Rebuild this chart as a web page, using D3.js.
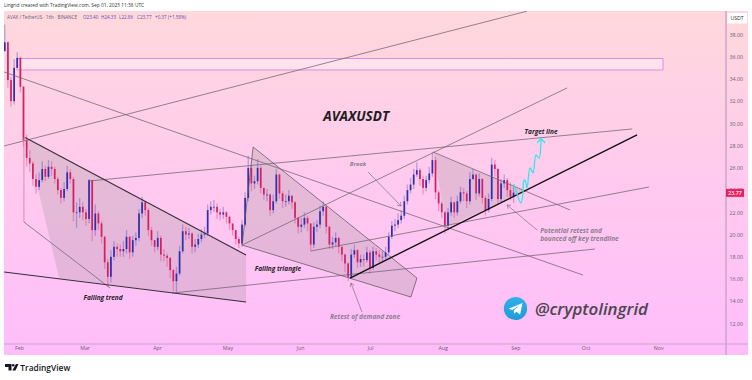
<!DOCTYPE html>
<html>
<head>
<meta charset="utf-8">
<script src="https://cdn.jsdelivr.net/npm/d3@7"></script>
<style>
  html, body { margin: 0; padding: 0; background: #fff; overflow: hidden; }
  svg { display: block; }
  text { font-family: "Open Sans", sans-serif; }
</style>
</head>
<body>
<div id="chartContainer"></div>
<script>
// 32 hour bars, first bar is 26 Jan 2025
var closes = [37.3,33.9,32.0,35.0,35.9,33.3,28.5,26.9,26.4,25.0,
  24.3,24.9,25.9,25.2,26.1,25.9,25.0,24.0,23.3,24.1,
  25.6,25.0,22.0,22.0,22.5,22.0,21.4,24.9,20.4,21.9,
  21.0,19.8,17.5,16.2,18.0,18.9,18.7,18.5,18.7,19.8,
  18.4,19.5,19.7,21.9,22.9,22.2,20.4,19.5,18.9,19.7,
  18.2,18.1,17.9,16.8,15.8,16.5,18.5,20.3,20.0,20.1,
  18.9,19.1,19.6,20.0,20.1,22.2,22.5,22.5,22.0,21.8,
  22.0,21.6,21.0,20.4,19.6,19.2,20.9,23.3,26.0,24.6,
  24.8,26.0,24.2,23.6,23.6,22.2,23.0,25.4,23.7,23.0,
  23.0,23.5,22.9,21.5,20.7,20.9,21.5,21.0,19.1,20.7,
  20.9,22.1,22.5,20.7,19.1,19.3,19.7,18.9,18.2,17.4,
  16.2,18.2,18.6,17.5,17.8,17.7,18.4,17.0,18.5,18.2,
  18.0,18.0,18.4,19.8,20.8,20.9,21.3,21.7,23.0,24.0,
  24.5,25.4,25.8,25.0,24.2,24.9,25.5,26.7,23.8,22.8,
  22.0,20.8,22.0,22.9,22.0,23.0,23.8,23.7,23.0,25.0,
  25.4,23.7,25.0,23.3,22.2,23.2,26.3,25.9,23.2,24.6,
  24.9,24.0,23.4,23.77];
var highs = [38.9,37.4,34.2,35.8,36.4,36.0,33.4,29.0,27.6,26.6,
  25.4,25.6,26.6,26.2,26.7,26.6,26.1,25.2,24.2,24.7,
  26.2,25.9,25.2,22.9,23.3,22.9,22.3,25.0,24.9,22.7,
  22.1,21.2,19.9,17.8,18.6,19.4,19.2,19.1,19.4,20.4,
  19.9,19.9,20.2,22.3,23.4,23.0,22.4,20.7,19.5,20.3,
  19.9,18.7,18.3,18.0,16.9,17.1,19.0,20.9,20.7,20.6,
  20.2,19.6,20.1,20.5,20.7,22.7,23.0,23.1,22.8,22.3,
  22.5,22.1,21.7,21.0,20.4,19.8,21.3,23.8,27.1,26.2,
  25.3,26.8,26.2,24.2,24.1,23.7,23.6,25.9,25.5,23.9,
  23.6,24.0,23.5,23.0,21.6,21.5,22.0,21.7,21.0,21.1,
  21.3,22.6,23.0,22.6,20.8,19.8,20.2,19.8,18.9,18.3,
  17.5,18.7,19.1,18.7,18.2,18.2,18.9,18.6,18.9,18.8,
  18.6,18.5,18.9,20.2,21.2,21.4,21.9,22.2,23.5,24.5,
  25.1,25.9,26.5,26.0,25.3,25.3,26.1,27.4,27.0,24.0,
  23.0,22.1,22.4,23.4,23.0,23.5,24.3,24.2,23.9,25.6,
  25.9,25.5,25.5,25.1,23.5,23.7,26.9,26.7,26.0,25.0,
  25.4,25.1,24.7,24.33];
var lows = [36.5,33.2,31.5,31.7,35.0,32.8,27.9,26.1,25.6,24.4,
  23.7,24.0,24.7,24.8,25.0,25.3,24.6,23.6,22.8,23.0,
  23.9,24.6,21.2,20.6,21.5,21.3,20.8,21.0,19.4,19.9,
  20.4,19.2,16.9,15.3,15.7,17.7,18.0,18.0,18.0,18.3,
  17.8,18.0,19.0,19.4,21.5,21.7,19.9,19.0,18.4,18.6,
  17.6,17.6,17.1,16.1,14.9,14.8,16.3,18.3,19.5,19.6,
  18.3,18.4,18.8,19.3,19.7,19.9,21.8,22.0,21.4,21.3,
  21.4,21.0,20.4,19.9,19.1,18.8,18.9,20.7,23.0,23.9,
  24.1,24.5,23.7,23.1,23.0,21.7,21.9,22.8,23.2,22.4,
  22.5,22.7,22.3,21.0,20.1,20.2,20.6,20.3,18.5,18.8,
  20.2,20.6,21.7,20.1,18.7,18.7,19.0,18.3,17.6,16.6,
  15.8,16.0,17.9,17.0,17.1,17.1,17.5,16.5,16.8,17.7,
  17.5,17.5,17.8,18.2,19.6,20.3,20.6,21.0,21.4,22.7,
  23.7,24.1,25.2,24.4,23.6,23.9,24.6,25.2,23.2,22.1,
  21.5,20.1,20.4,21.7,21.5,21.7,22.8,23.0,22.4,22.7,
  24.9,23.1,23.4,22.8,21.7,22.0,23.0,25.2,22.7,22.9,
  24.2,23.4,23.1,22.86];

var priceTicks = [38,36,34,32,30,28,26,24,22,20,18,16,14,12];
var monthTicks = ["2025-02-01","2025-03-01","2025-04-01","2025-05-01","2025-06-01",
  "2025-07-01","2025-08-01","2025-09-01","2025-10-01","2025-11-01"];

// drawings as [days after 1 Feb, price]
var thinLines = [
  [[-6.4,27.97],[217,40.1]],
  [[-6.4,34.63],[240.9,16.36]],
  [[29.9,24.82],[261.9,29.5]],
  [[2.1,21.13],[38.9,15.19]],
  [[65.4,14.74],[246,18.7]],
  [[95.3,19.06],[234.1,33.19]],
  [[124.7,18.52],[269.1,24.28]],
  [[176.9,27.43],[235.4,22.21]]
];
var heavyLines = [
  [[2.6,28.73],[97,18.16]],
  [[-6.4,16.63],[97,13.93]]
];
var mainTrend = [[141.4,16.09],[264,28.96]];
var stem = [[2.1,28.78],[2.1,21.13]];
var wedgeFalling = [[2.6,28.73],[97,18.16],[97,13.93],[17.1,16.09],[7.7,24.46]];
var wedgeTriangle = [[100,27.88],[170,16.09],[167.4,14.38],[95.3,19.06]];
var wedgeRecent = [[176.9,27.43],[216.1,23.92],[182.8,20.68]];
var arrows = [
  [[149.1,25.63],[163.2,22.57]],
  [[146.5,13.03],[141.8,15.64]],
  [[221.3,20.41],[208.5,22.66]]
];
var projection = [[211.4,24.55],[213.2,23.38],[214.4,22.84],[215.3,23.83],[215.5,24.73],[216.1,24.91],[217,24.2],
  [218.3,26.0],[219.6,25.54],[220.8,27.16],[222.1,26.89],[223,28.6]];
var projectionHead = [[221.3,28.24],[223,28.64],[224.7,28.24]];
var zone = [[-0.9,35.84],[275.1,34.81]];

var legendValues = ["O23.40","H24.33","L22.86","C23.77","+0.37 (+1.58%)"];

var labels = [
  { text: "AVAXUSDT", at: [144,30.58], size: 13.5, color: "#1d1d1f", weight: 700 },
  { text: "Target line", at: [223,29.23], size: 6.5, color: "#1d1d1f", weight: 700 },
  { text: "Break", at: [144.8,26.35], size: 6, color: "#8b7f90", weight: 700 },
  { text: "Falling trend", at: [35.9,14.29], size: 6.5, color: "#1d1d1f", weight: 700 },
  { text: "Falling triangle", at: [110.6,16.9], size: 6.5, color: "#1d1d1f", weight: 700 },
  { text: "Retest of demand zone", at: [147.8,12.58], size: 6.5, color: "#8b7f90", weight: 700 }
];
var noteLines = [
  { text: "Potential retest and", at: [222.6,20.27] },
  { text: "bounced off key trendline", at: [222.6,19.6] }
];

function init() {
    var ww = 752, h = 380;
    var paneRight = 726, paneBottom = 344;

    var x = d3.scaleUtc()
        .domain([Date.UTC(2025,0,25,14), Date.UTC(2025,10,30)])
        .range([4, paneRight]);
    var y = d3.scaleLinear().domain([38, 12]).range([34.5, 323.5]);

    var feb1 = Date.UTC(2025,1,1);
    var day = 86400000;
    var firstBar = Date.UTC(2025,0,25,22);
    function pt(d) { return [x(feb1 + d[0]*day), y(d[1])]; }
    var line = d3.line().x(function(d) { return pt(d)[0]; }).y(function(d) { return pt(d)[1]; });
    var bars = closes.map(function(c, i) {
        return { t: firstBar + i*32*3600000, o: i ? closes[i-1] : 36.5, c: c, hi: highs[i], lo: lows[i] };
    });

    var svg = d3.select("#chartContainer").append("svg").attr("width", ww).attr("height", h);
    var defs = svg.append("defs");
    var grad = defs.append("linearGradient").attr("id","bg").attr("x1",0).attr("x2",0).attr("y1",0).attr("y2",1);
    grad.append("stop").attr("offset","0%").attr("stop-color","#ffd8dc");
    grad.append("stop").attr("offset","45%").attr("stop-color","#ffcbed");
    grad.append("stop").attr("offset","100%").attr("stop-color","#ffbdfb");
    var blue = defs.append("linearGradient").attr("id","tg").attr("x1",0).attr("x2",0).attr("y1",0).attr("y2",1);
    blue.append("stop").attr("offset","0%").attr("stop-color","#2fb0ea");
    blue.append("stop").attr("offset","100%").attr("stop-color","#1f9ad8");
    defs.append("clipPath").attr("id","pane").append("rect")
        .attr("x",4).attr("y",11).attr("width",paneRight-4).attr("height",paneBottom-11);

    svg.append("rect").attr("x",4).attr("y",11).attr("width",744).attr("height",344).attr("fill","url(#bg)");

    svg.append("text").attr("x",4).attr("y",7.3).attr("font-size",4.85).attr("fill","#333")
        .text("Lingrid created with TradingView.com, Sep 01, 2025 11:38 UTC");

    var pane = svg.append("g").attr("clip-path","url(#pane)");

    // shaded wedges sit under the candles
    [wedgeFalling, wedgeTriangle, wedgeRecent].forEach(function(w) {
        pane.append("path").attr("d", line(w) + "Z")
            .attr("fill","#7d7d78").attr("fill-opacity",0.2);
    });

    pane.append("path")
        .attr("d", "M" + pt(zone[0]) + "H" + pt(zone[1])[0] + "V" + pt(zone[1])[1] + "H" + pt(zone[0])[0] + "Z")
        .attr("fill","#fff").attr("fill-opacity",0.32)
        .attr("stroke","#d684dc").attr("stroke-width",0.9);

    // candles
    pane.selectAll("line.wick").data(bars).enter().append("line")
        .attr("class","wick")
        .attr("x1", function(d) { return x(d.t); })
        .attr("x2", function(d) { return x(d.t); })
        .attr("y1", function(d) { return y(d.hi); })
        .attr("y2", function(d) { return y(d.lo); })
        .attr("stroke", function(d) { return d.c >= d.o ? "#4a4ab8" : "#dd3576"; })
        .attr("stroke-opacity",0.38).attr("stroke-width",1.3);
    pane.selectAll("rect.body").data(bars).enter().append("rect")
        .attr("class","body")
        .attr("x", function(d) { return x(d.t) - 0.85; })
        .attr("width", 1.7)
        .attr("y", function(d) { return y(Math.max(d.o, d.c)); })
        .attr("height", function(d) { return Math.max(0.8, Math.abs(y(d.o) - y(d.c))); })
        .attr("fill", function(d) { return d.c >= d.o ? "#2c2fae" : "#d61f62"; });

    // trend lines
    thinLines.forEach(function(l) {
        pane.append("path").attr("d", line(l)).attr("fill","none")
            .attr("stroke","#6d6470").attr("stroke-width",0.75);
    });
    pane.append("path").attr("d", line(stem)).attr("stroke","#d86a96").attr("stroke-width",0.7);
    pane.append("path").attr("d", line(wedgeTriangle) + "Z").attr("fill","none")
        .attr("stroke","#5f5863").attr("stroke-width",0.75);
    heavyLines.forEach(function(l) {
        pane.append("path").attr("d", line(l)).attr("fill","none")
            .attr("stroke","#35303a").attr("stroke-width",1.1);
    });
    pane.append("path").attr("d", line(mainTrend)).attr("fill","none")
        .attr("stroke","#111").attr("stroke-width",1.4);

    arrows.forEach(function(a) {
        var p0 = pt(a[0]), p1 = pt(a[1]);
        var ang = Math.atan2(p1[1]-p0[1], p1[0]-p0[0]);
        var hd = 4;
        pane.append("path")
            .attr("d", "M" + p0 + "L" + p1 +
                "M" + [p1[0]-hd*Math.cos(ang-0.6), p1[1]-hd*Math.sin(ang-0.6)] + "L" + p1 +
                "L" + [p1[0]-hd*Math.cos(ang+0.6), p1[1]-hd*Math.sin(ang+0.6)])
            .attr("fill","none").attr("stroke","#7d7482").attr("stroke-width",0.7);
    });

    // projected path up to the target
    pane.append("path").attr("d", d3.line()
            .x(function(d) { return pt(d)[0]; }).y(function(d) { return pt(d)[1]; })
            .curve(d3.curveCatmullRom)(projection))
        .attr("fill","none").attr("stroke","#28eaea").attr("stroke-width",1.25);
    pane.append("path").attr("d", line(projectionHead)).attr("fill","none")
        .attr("stroke","#28eaea").attr("stroke-width",1.25);

    // labels
    labels.forEach(function(l) {
        var p = pt(l.at);
        svg.append("text").attr("x",p[0]).attr("y",p[1]).attr("text-anchor","middle")
            .attr("dominant-baseline","middle").attr("font-size",l.size).attr("font-weight",l.weight)
            .attr("font-style","italic").attr("fill",l.color).text(l.text);
    });
    noteLines.forEach(function(l) {
        var p = pt(l.at);
        svg.append("text").attr("x",p[0]).attr("y",p[1]).attr("dominant-baseline","middle")
            .attr("font-size",6.5).attr("font-weight",700).attr("font-style","italic")
            .attr("fill","#8b7f90").text(l.text);
    });

    // symbol legend
    var legend = svg.append("text").attr("y",18.6).attr("font-size",4.6);
    legend.append("tspan").attr("x",7).attr("fill","#5d5a78").text("AVAX / TetherUS \u00b7 16h \u00b7 BINANCE");
    var legendX = [83,101,119,137,155];
    legendValues.forEach(function(v, i) {
        legend.append("tspan").attr("x",legendX[i]).attr("fill","#5d4bb2").text(v);
    });

    // axes
    var axisColor = "#c6a4c8";
    svg.append("line").attr("x1",4).attr("x2",748).attr("y1",paneBottom).attr("y2",paneBottom)
        .attr("stroke",axisColor).attr("stroke-width",1);
    svg.append("line").attr("x1",paneRight).attr("x2",paneRight).attr("y1",11).attr("y2",355)
        .attr("stroke",axisColor).attr("stroke-width",1.4);

    var xAxis = d3.axisBottom(x)
        .tickValues(monthTicks.map(function(m) { return new Date(m); }))
        .tickFormat(d3.utcFormat("%b")).tickSize(0).tickPadding(2.5);
    var gx = svg.append("g").attr("transform","translate(0," + paneBottom + ")").call(xAxis);
    var yAxis = d3.axisRight(y).tickValues(priceTicks).tickFormat(d3.format(".2f")).tickSize(0).tickPadding(3.5);
    var gy = svg.append("g").attr("transform","translate(" + paneRight + ",0)").call(yAxis);
    [gx, gy].forEach(function(g) {
        g.select(".domain").remove();
        g.selectAll("text").attr("font-size",5.3).attr("fill","#6b5f72").attr("font-family","'Open Sans', sans-serif");
    });

    svg.append("rect").attr("x",727.5).attr("y",13).attr("width",19.5).attr("height",10.5).attr("fill","#fff");
    svg.append("text").attr("x",737).attr("y",20).attr("text-anchor","middle")
        .attr("font-size",5.2).attr("fill","#333").text("USDT");

    // price tag covers part of the 24.00 tick, same as the original
    var last = closes[closes.length-1];
    svg.append("rect").attr("x",726).attr("y",y(last)-3.8).attr("width",18).attr("height",8).attr("fill","#ea1f5f");
    svg.append("text").attr("x",735).attr("y",y(last)+2.1).attr("text-anchor","middle")
        .attr("font-size",5.3).attr("font-weight",600).attr("fill","#fff").text(last.toFixed(2));

    // telegram badge and handle
    var tg = svg.append("g").attr("transform","translate(515.5,308.5)");
    tg.append("circle").attr("r",11.6).attr("fill","url(#tg)");
    tg.append("path").attr("d","M-7,0.2 L7,-5.5 L4.6,6 L0.8,3.2 L-1.4,5.3 L-1.8,2 L3.8,-3.2 L-3.2,1.6 Z").attr("fill","#fff");
    svg.append("text").attr("x",535).attr("y",315).attr("font-size",16.9).attr("font-weight",600)
        .attr("font-style","italic").attr("fill","#4a464f").text("@cryptolingrid");

    // footer brand
    svg.append("path").attr("d","M5,364 H11.5 V370.5 H8.5 V367 H5 Z M16,364 H18.5 L15.5,370.5 H12.3 Z")
        .attr("fill","#131722");
    svg.append("circle").attr("cx",13.2).attr("cy",365.3).attr("r",1.3).attr("fill","#131722");
    svg.append("text").attr("x",20.3).attr("y",370.8).attr("font-family","Inter, sans-serif").attr("font-size",8.4)
        .attr("font-weight",600).attr("fill","#131722").text("TradingView");
}

window.onload = init;
</script>
</body>
</html>
